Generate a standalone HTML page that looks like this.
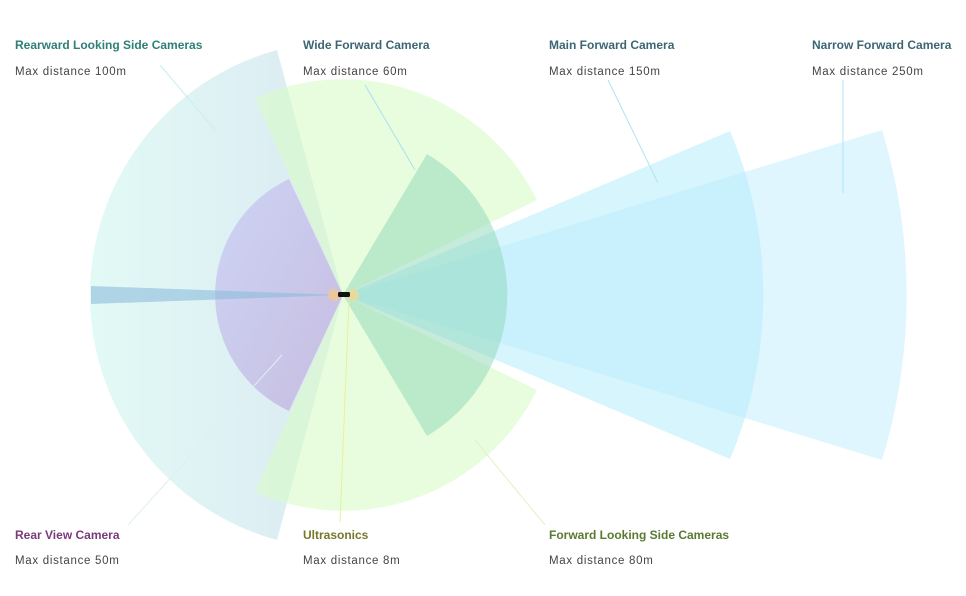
<!DOCTYPE html>
<html><head><style>
body{margin:0;background:#fff;width:966px;height:596px;overflow:hidden;font-family:"Liberation Sans",sans-serif;}
.t{position:absolute;font-size:12px;font-weight:bold;letter-spacing:0px}
.s{position:absolute;font-size:11.5px;color:#444;letter-spacing:0.7px}
</style></head><body>
<svg width="966" height="596" style="position:absolute;left:0;top:0">
<defs>
<linearGradient id="gb" x1="0" y1="0" x2="1" y2="0">
<stop offset="0" stop-color="#d8f8f2"/><stop offset="1" stop-color="#cfe3ee"/>
</linearGradient>
<linearGradient id="gp" x1="0" y1="0" x2="1" y2="1">
<stop offset="0" stop-color="#c9ccf4"/><stop offset="1" stop-color="#c2b2dc"/>
</linearGradient>
</defs>
<path d="M343,295 L277,50 A254,254 0 0 0 277,540 Z" fill="url(#gb)" opacity="0.75"/>
<path d="M343,295 L882,130 A564,564 0 0 1 882,460 Z" fill="#c4efff" opacity="0.55"/>
<path d="M343,295 L730,131 A420,420 0 0 1 730,459 Z" fill="#b4ecfb" opacity="0.55"/>
<path d="M343,295 L255,98 A216,216 0 0 1 537,200 Z" fill="#d8fcc8" opacity="0.6"/>
<path d="M343,295 L537,390 A216,216 0 0 1 255,492 Z" fill="#d8fcc8" opacity="0.6"/>
<path d="M343,295 L427,154 A164,164 0 0 1 427,436 Z" fill="#8ed8b8" opacity="0.5"/>
<path d="M343,295 L289,179 A128,128 0 0 0 289,411 Z" fill="url(#gp)" opacity="0.8"/>
<path d="M343,295 L91,286 L91,304 Z" fill="#8cbcdc" opacity="0.6"/>
<g stroke-width="1" fill="none">
<line x1="160" y1="65" x2="215" y2="130" stroke="#c8f0ee"/>
<line x1="365" y1="85" x2="415" y2="170" stroke="#a8e0f0"/>
<line x1="608" y1="80" x2="658" y2="183" stroke="#b0e4f4"/>
<line x1="843" y1="80" x2="843" y2="193" stroke="#b0e4f4"/>
<line x1="128" y1="525" x2="282" y2="355" stroke="#e0eef0"/>
<line x1="340" y1="522" x2="349" y2="300" stroke="#e8f0a0"/>
<line x1="545" y1="525" x2="475" y2="440" stroke="#e4f0c8"/>
</g>
<circle cx="334" cy="295" r="6" fill="#f4c890" opacity="0.8"/>
<circle cx="353" cy="295" r="6" fill="#f4d890" opacity="0.8"/>
<rect x="338" y="292" width="12" height="5" rx="1.5" fill="#111"/>
</svg>
<div class="t" style="left:15px;top:38px;color:#2f7f76">Rearward Looking Side Cameras</div>
<div class="s" style="left:15px;top:66px">Max distance 100m</div>
<div class="t" style="left:303px;top:38px;color:#3d6673">Wide Forward Camera</div>
<div class="s" style="left:303px;top:66px">Max distance 60m</div>
<div class="t" style="left:549px;top:38px;color:#3d6673">Main Forward Camera</div>
<div class="s" style="left:549px;top:66px">Max distance 150m</div>
<div class="t" style="left:812px;top:38px;color:#3d6673">Narrow Forward Camera</div>
<div class="s" style="left:812px;top:66px">Max distance 250m</div>
<div class="t" style="left:15px;top:528px;color:#7a3a7d">Rear View Camera</div>
<div class="s" style="left:15px;top:555px">Max distance 50m</div>
<div class="t" style="left:303px;top:528px;color:#76782a">Ultrasonics</div>
<div class="s" style="left:303px;top:555px">Max distance 8m</div>
<div class="t" style="left:549px;top:528px;color:#5a7a30">Forward Looking Side Cameras</div>
<div class="s" style="left:549px;top:555px">Max distance 80m</div>
</body></html>
